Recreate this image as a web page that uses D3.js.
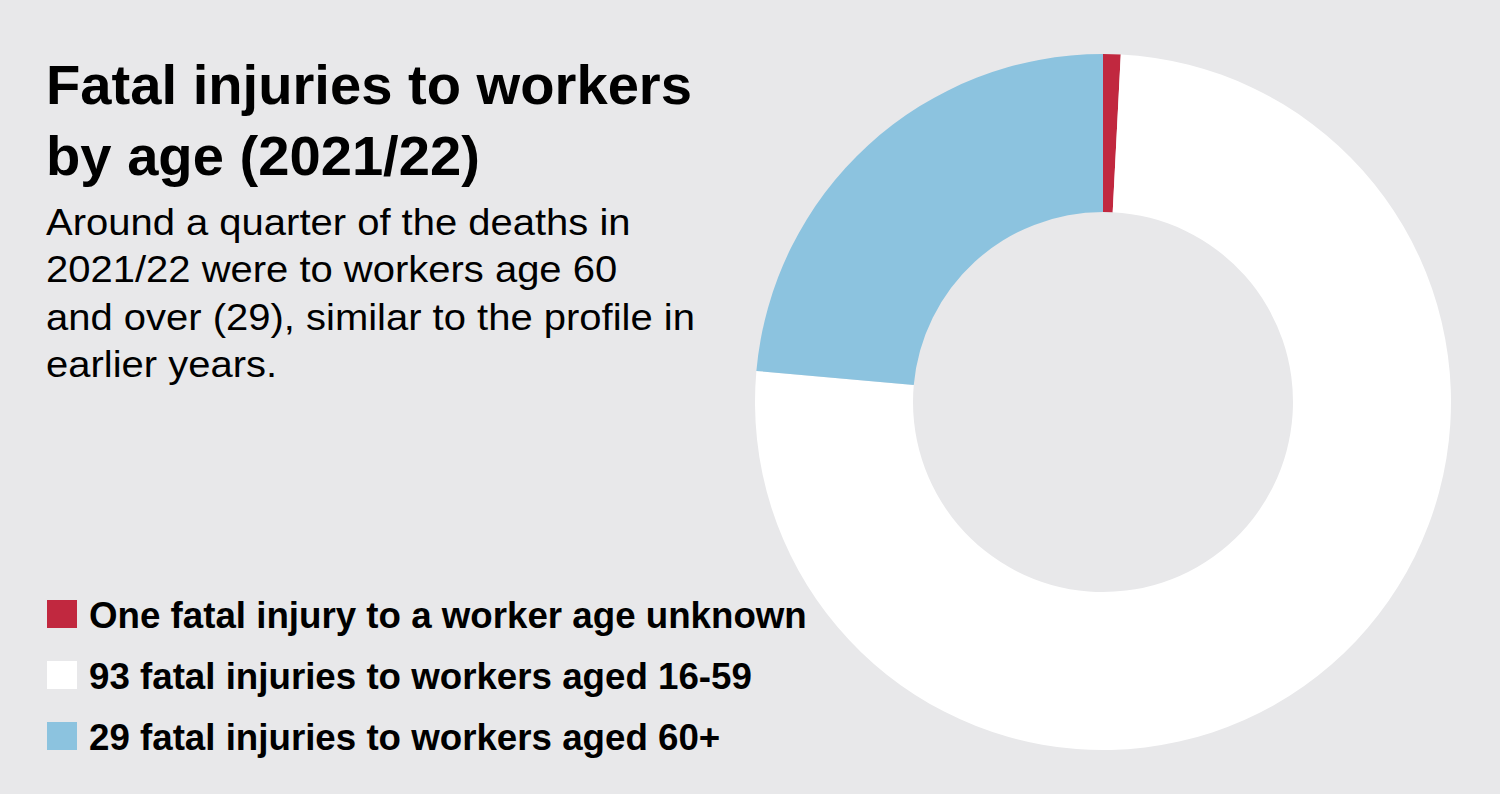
<!DOCTYPE html>
<html>
<head>
<meta charset="utf-8">
<script src="https://cdn.jsdelivr.net/npm/d3@7"></script>
<style>
  body { margin: 0; background: #e8e8ea; }
  svg { display: block; }
  text { font-family: "Liberation Sans", Arial, sans-serif; fill: #000; }
</style>
</head>
<body>
<svg id="chart" width="1500" height="794"></svg>
<script>
// data
const categories = ["unknown", "16-59", "60+"];
const deaths = [1, 93, 29];
const legendLabels = [
  "One fatal injury to a worker age unknown",
  "93 fatal injuries to workers aged 16-59",
  "29 fatal injuries to workers aged 60+"
];
const titleLines = ["Fatal injuries to workers", "by age (2021/22)"];
const subtitleLines = [
  "Around a quarter of the deaths in",
  "2021/22 were to workers age 60",
  "and over (29), similar to the profile in",
  "earlier years."
];

const W = 1500, H = 794;
const svg = d3.select("#chart");
svg.append("rect").attr("width", W).attr("height", H).attr("fill", "#e8e8ea");

const color = d3.scaleOrdinal()
  .domain(categories)
  .range(["#c1283f", "#ffffff", "#8cc3df"]);

// donut
const cx = 1103, cy = 402, outerR = 348, innerR = 190;
const pie = d3.pie().sort(null).value(d => d.value);
const arc = d3.arc().innerRadius(innerR).outerRadius(outerR);
const slices = pie(categories.map((c, i) => ({ key: c, value: deaths[i] })));

const donut = svg.append("g").attr("transform", `translate(${cx},${cy})`);
donut.selectAll("path")
  .data(slices)
  .enter()
  .append("path")
  .attr("d", arc)
  .attr("fill", d => color(d.data.key));

// text block helper: scale lines horizontally so the widest one spans fitWidth
function textBlock(lines, x, y0, step, size, weight, fitWidth) {
  const g = svg.append("g");
  g.selectAll("text")
    .data(lines)
    .enter()
    .append("text")
    .attr("x", 0)
    .attr("y", (d, i) => i * step)
    .style("font-size", size + "px")
    .style("font-weight", weight)
    .text(d => d);
  let widest = 0;
  g.selectAll("text").each(function() {
    widest = Math.max(widest, this.getComputedTextLength());
  });
  const sx = widest > 0 ? fitWidth / widest : 1;
  g.attr("transform", `translate(${x},${y0}) scale(${sx},1)`);
  return g;
}

textBlock(titleLines, 46, 104, 71, 55, "bold", 646);
textBlock(subtitleLines, 46, 235, 47.5, 37, "normal", 649);

// legend
const legend = svg.append("g").attr("transform", "translate(47,600)");
const rows = legend.selectAll(".legend")
  .data(categories)
  .enter()
  .append("g")
  .attr("class", "legend")
  .attr("transform", (d, i) => `translate(0,${i * 61})`);

rows.append("rect")
  .attr("width", 30)
  .attr("height", 28)
  .attr("fill", d => color(d));

const legText = rows.append("text")
  .attr("x", 42)
  .attr("y", 27.5)
  .style("font-size", "37px")
  .style("font-weight", "bold")
  .text((d, i) => legendLabels[i]);

let legWidest = 0;
legText.each(function() { legWidest = Math.max(legWidest, this.getComputedTextLength()); });
const legScale = 718 / legWidest;
legText.attr("transform", `translate(42,0) scale(${legScale},1) translate(-42,0)`);
</script>
</body>
</html>
